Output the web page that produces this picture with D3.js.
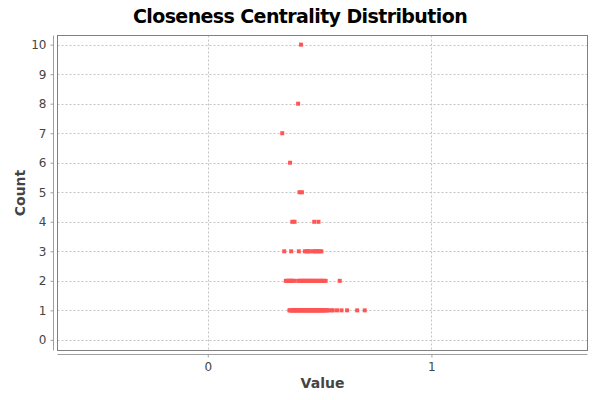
<!DOCTYPE html>
<html><head><meta charset="utf-8">
<script src="https://cdn.jsdelivr.net/npm/d3@7"></script>
<style>body{margin:0;background:#fff}svg{display:block}</style>
</head><body><svg id="c" width="600" height="400"></svg>
<script>
// Data: each array holds the closeness values observed with a given count
const counts = [1, 2, 3, 4, 5, 6, 7, 8, 10];
const values1 = [0.365,0.369,0.374,0.377,0.382,0.386,0.389,0.394,0.398,0.401,0.406,0.410,0.413,0.418,0.422,0.425,0.430,0.434,0.437,0.442,0.446,0.449,0.454,0.458,0.461,0.466,0.470,0.473,0.478,0.482,0.485,0.490,0.494,0.497,0.502,0.506,0.509,0.514,0.518,0.521,0.527,0.533,0.538,0.553,0.559,0.578,0.598,0.623,0.668,0.702];
const values2 = [0.349,0.355,0.362,0.368,0.374,0.380,0.386,0.404,0.410,0.417,0.423,0.430,0.436,0.443,0.449,0.456,0.462,0.469,0.475,0.482,0.490,0.497,0.504,0.511,0.518,0.527,0.590];
const values3 = [0.342,0.373,0.407,0.434,0.442,0.449,0.456,0.471,0.478,0.485,0.492,0.500,0.508];
const values4 = [0.378,0.388,0.476,0.495];
const values5 = [0.410,0.421];
const values6 = [0.368];
const values7 = [0.333];
const values8 = [0.404];
const values10 = [0.417];
const valueGroups = [values1, values2, values3, values4, values5, values6, values7, values8, values10];
const xTicks = [0, 1];
const yTicks = [0,1,2,3,4,5,6,7,8,9,10];

const points = [];
valueGroups.forEach((arr, i) => arr.forEach(v => points.push({x: v, y: counts[i]})));

const svg = d3.select("#c");
const L = 57.5, R = 587.5, T = 35.5, B = 350.5;
const x = d3.scaleLinear().domain([-0.672, 1.698]).range([L, R]);
const y = d3.scaleLinear().domain([-0.36, 10.31]).range([B, T]);
const font = "Tahoma, 'DejaVu Sans', sans-serif";

// title
svg.append("text").attr("x", 300).attr("y", 23).attr("text-anchor", "middle")
  .attr("font-family", "'DejaVu Sans', sans-serif").attr("font-weight", "bold")
  .attr("font-size", 19).attr("fill", "#000").attr("letter-spacing", -0.6)
  .text("Closeness Centrality Distribution");

// gridlines
const g = svg.append("g");
g.selectAll(".gx").data(xTicks).join("line")
  .attr("x1", d => Math.round(x(d)) + 0.5).attr("x2", d => Math.round(x(d)) + 0.5)
  .attr("y1", T).attr("y2", B).attr("stroke", "#c4c4c4").attr("stroke-dasharray", "2,2");
g.selectAll(".gy").data(yTicks).join("line")
  .attr("y1", d => Math.round(y(d)) + 0.5).attr("y2", d => Math.round(y(d)) + 0.5)
  .attr("x1", L).attr("x2", R).attr("stroke", "#c4c4c4").attr("stroke-dasharray", "2,2");

// points
svg.append("g").selectAll("rect").data(points).join("rect")
  .attr("x", d => x(d.x) - 2).attr("y", d => y(d.y) - 2)
  .attr("width", 4).attr("height", 4).attr("fill", "#ff5555");

// border
svg.append("rect").attr("x", L).attr("y", T).attr("width", R - L).attr("height", B - T)
  .attr("fill", "none").attr("stroke", "#808080");

// y axis
const yAxis = d3.axisLeft(y).tickValues(yTicks).tickSize(3).tickPadding(4).tickFormat(d3.format("d"));
const ya = svg.append("g").attr("transform", "translate(53.5,0)").call(yAxis);
ya.select(".domain").attr("stroke", "#a0a0a0").attr("d", `M0,${T}V${B}`);
ya.selectAll(".tick line").attr("stroke", "#a0a0a0");
ya.selectAll("text").attr("font-family", font).attr("font-size", 12).attr("fill", "#444");

// x axis
const xAxis = d3.axisBottom(x).tickValues(xTicks).tickSize(3).tickPadding(5).tickFormat(d3.format("d"));
const xa = svg.append("g").attr("transform", "translate(0,354.5)").call(xAxis);
xa.select(".domain").attr("stroke", "#a0a0a0").attr("d", `M${L},0H${R}`);
xa.selectAll(".tick line").attr("stroke", "#a0a0a0");
xa.selectAll("text").attr("font-family", font).attr("font-size", 12).attr("fill", "#444");

// axis labels
svg.append("text").attr("x", (L + R) / 2).attr("y", 388).attr("text-anchor", "middle")
  .attr("font-family", font).attr("font-weight", "bold").attr("font-size", 14).attr("fill", "#444")
  .text("Value");
svg.append("text").attr("transform", `translate(25,${(T + B) / 2}) rotate(-90)`).attr("text-anchor", "middle")
  .attr("font-family", font).attr("font-weight", "bold").attr("font-size", 14).attr("fill", "#444")
  .text("Count");
</script></body></html>
